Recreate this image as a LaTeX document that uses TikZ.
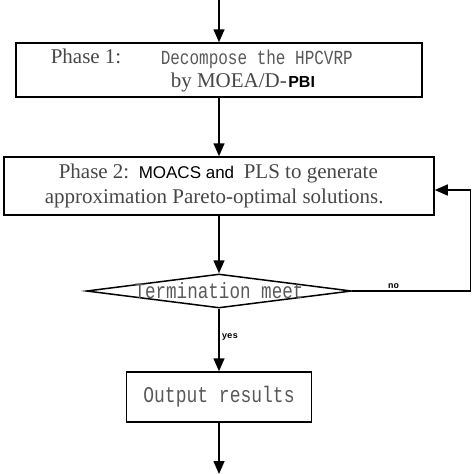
\documentclass[tikz,border=0pt]{standalone}
\usepackage{fontspec}
\setmainfont{Liberation Serif}
\setsansfont{Liberation Sans}
\setmonofont{Liberation Mono}
\newfontfamily\narrowmono[FakeStretch=0.8]{Liberation Mono}
\usetikzlibrary{shapes.geometric, positioning, arrows.meta}

\begin{document}
\begin{tikzpicture}[x=1pt, y=-1pt, >={Triangle[width=11pt,length=13pt]}, on grid, line width=1.5pt,
    box/.style={draw, rectangle, inner sep=0pt},
    txt/.style={inner sep=0pt, anchor=base west},
    serif/.style={txt, text=black!72, font=\fontsize{21}{25}\selectfont},
    mono/.style={text=black!65, font=\narrowmono\fontsize{20}{23}\selectfont},
    sans/.style={txt, text=black, font=\sffamily\fontsize{17}{20}\selectfont},
    tag/.style={inner sep=2pt, font=\ttfamily\bfseries\fontsize{9}{10}\selectfont}]
    \useasboundingbox (0,0) rectangle (474,474);

    % Boxes
    \coordinate (in) at (219,0);
    \node[box, minimum width=406pt, minimum height=54pt] (phase1) at (219,70) {};
    \node[box, minimum width=430pt, minimum height=58pt, below=116pt of phase1] (phase2) {};
    \node[draw, diamond, minimum width=265pt, minimum height=34pt, inner sep=0pt, below=105pt of phase2] (term) {};
    \node[box, minimum width=185pt, minimum height=50pt, below=106pt of term] (output) {};
    \coordinate (out) at (219,474);

    % Texts
    \node[serif] (p1) at (50,63) {Phase 1:};
    \node[txt, mono] (p1a) at (160,64) {Decompose the HPCVRP};
    \node[serif] (p1b) at (170,87) {by MOEA/D-};
    \node[sans, font=\sffamily\bfseries\fontsize{16}{19}\selectfont] (p1c) at (p1b.base east) {PBI};
    \node[serif] (p2) at (58,178) {Phase 2:};
    \node[sans] (p2a) at (138,178) {MOACS and};
    \node[serif] (p2b) at (243,178) {PLS to generate};
    \node[serif] (p2c) at (44,203) {approximation Pareto-optimal solutions.};
    \node[mono, font=\narrowmono\fontsize{22}{25}\selectfont] (termtext) at (term) {Termination meet};
    \node[mono, font=\narrowmono\fontsize{22.5}{25}\selectfont] (outtext) at (output) {Output results};

    % Connectors
    \draw[->] (in) -- (phase1);
    \draw[->] (phase1) -- (phase2);
    \draw[->] (phase2) -- (term);
    \draw[->] (term) -- node[tag, right, pos=0.45] {yes} (output);
    \draw[->] (output) -- (out);
    \draw[->] (term.east) -- node[tag, above, pos=0.35] {no} ++(118,0) |- ([yshift=-4pt]phase2.east);
\end{tikzpicture}
\end{document}
